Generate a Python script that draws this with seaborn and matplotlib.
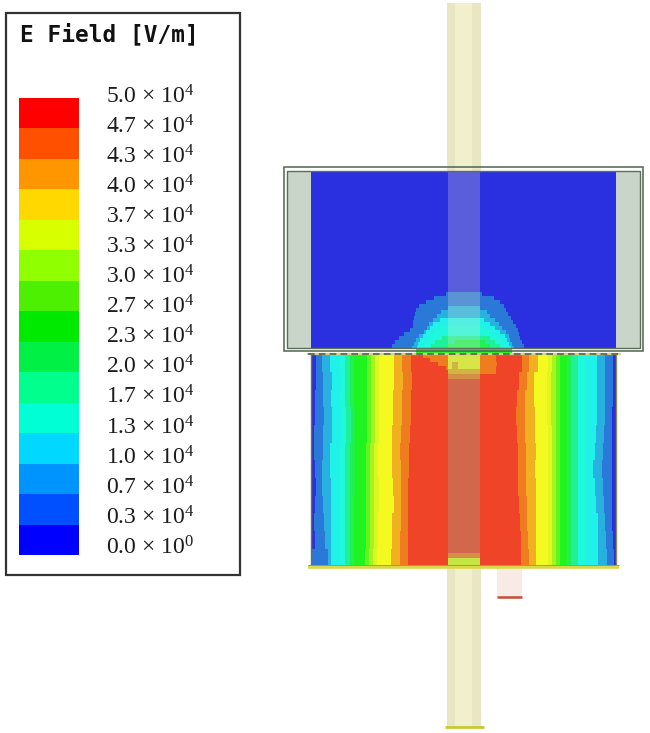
import numpy as np
import pandas as pd
import seaborn as sns
import matplotlib
matplotlib.use("Agg")
import matplotlib.pyplot as plt
from matplotlib.colors import ListedColormap
from matplotlib.patches import Rectangle

sns.set_theme(style="white")
plt.rcParams["font.family"] = ["Liberation Serif", "DejaVu Sans"]
plt.rcParams["mathtext.default"] = "regular"

W, H = 650, 733

# Contour levels of the key, highest first
legend_labels = [("5.0", 4), ("4.7", 4), ("4.3", 4), ("4.0", 4), ("3.7", 4), ("3.3", 4),
                 ("3.0", 4), ("2.7", 4), ("2.3", 4), ("2.0", 4), ("1.7", 4), ("1.3", 4),
                 ("1.0", 4), ("0.7", 4), ("0.3", 4), ("0.0", 0)]
legend_colors = ["#0000ff", "#0050ff", "#0094ff", "#00d8ff", "#00ffd4", "#00ff8c",
                 "#00f045", "#00ea00", "#4cf000", "#90ff00", "#d8ff00", "#ffd800",
                 "#ff9600", "#ff5000", "#ff0000"]
field_colors = ["#2a30e0", "#2a78d8", "#28b0e0", "#20f2ea", "#20f8dc", "#20f098",
                "#20f050", "#20f420", "#60f420", "#a4f420", "#dcf820", "#f4fa20",
                "#f0b020", "#f07c20", "#f04428"]

# Contour crossings in the lower region, one row per strip, x in canvas units
lower_left_edges = [
    [316, 322, 330, 340, 345, 350, 354, 367, 371, 375, 379, 394, 402, 411],
    [316, 323, 332, 341, 345, 350, 354, 367, 371, 375, 379, 394, 403, 412],
    [315, 323, 331, 340, 345, 350, 354, 367, 371, 375, 379, 393, 402, 411],
    [315, 324, 332, 341, 346, 351, 355, 367, 371, 375, 379, 393, 402, 411],
    [314, 323, 332, 341, 346, 351, 355, 367, 371, 375, 379, 392, 401, 410],
    [314, 323, 330, 340, 345, 350, 355, 366, 370, 374, 378, 392, 400, 409],
    [315, 322, 330, 340, 345, 350, 355, 366, 370, 374, 378, 392, 401, 409],
    [316, 322, 331, 340, 345, 350, 355, 366, 370, 374, 379, 393, 401, 408],
    [315, 323, 331, 340, 345, 350, 354, 366, 370, 374, 379, 394, 401, 408],
    [314, 324, 331, 340, 345, 350, 354, 366, 370, 374, 378, 392, 401, 408],
    [315, 325, 331, 340, 345, 350, 354, 366, 370, 374, 378, 392, 400, 408],
    [312, 328, 331, 340, 345, 350, 354, 365, 369, 373, 377, 391, 400, 408],
]
lower_right_edges = [
    [522, 529, 538, 548, 552, 556, 560, 567, 571, 578, 585, 597, 605, 613],
    [519, 527, 534, 547, 551, 556, 560, 567, 571, 578, 585, 597, 605, 613],
    [517, 525, 534, 547, 551, 556, 560, 567, 571, 578, 585, 597, 605, 613],
    [516, 525, 535, 547, 551, 556, 560, 567, 571, 578, 585, 597, 605, 612],
    [517, 525, 535, 548, 552, 556, 560, 567, 571, 578, 585, 596, 604, 612],
    [518, 526, 536, 548, 552, 556, 560, 567, 571, 578, 585, 595, 603, 612],
    [518, 526, 535, 548, 552, 556, 560, 567, 571, 578, 585, 593, 602, 612],
    [518, 526, 536, 548, 552, 556, 560, 567, 571, 578, 585, 595, 603, 612],
    [519, 527, 536, 548, 552, 556, 560, 567, 571, 578, 585, 596, 604, 612],
    [520, 527, 536, 548, 552, 556, 560, 567, 571, 578, 585, 598, 605, 612],
    [521, 528, 536, 548, 552, 556, 560, 567, 571, 578, 585, 598, 606, 613],
    [521, 529, 536, 548, 552, 556, 560, 567, 571, 578, 585, 598, 607, 614],
]
# Local disturbances around the conductor: y0, y1, x0, x1, level
lower_spots = [
    (354, 358, 423, 496, 13), (358, 362, 430, 496, 13), (362, 366, 438, 497, 13),
    (366, 370, 446, 496, 13), (370, 374, 480, 496, 13),
    (354, 369, 448, 480, 11), (362, 369, 452, 458, 12), (369, 374, 448, 480, 12),
    (374, 379, 448, 480, 13),
    (553, 558, 448, 480, 13), (558, 566, 448, 480, 10),
]

# Field leaking into the upper region: y of strip, left x, right x, per level
dome_level1 = [(292, 446, 482), (296, 434, 494), (300, 426, 500), (304, 419, 504),
               (308, 416, 506), (312, 415, 508), (316, 414, 511), (320, 413, 513),
               (324, 413, 516), (328, 410, 518), (332, 404, 519), (336, 399, 520),
               (340, 395, 522), (344, 392, 524), (348, 390, 525)]
dome_level2 = [(306, 448, 480), (310, 441, 487), (314, 437, 490), (318, 433, 495),
               (322, 429, 499), (326, 427, 502), (330, 424, 506), (334, 419, 509),
               (338, 416, 510), (342, 414, 512), (346, 412, 514)]
dome_level3 = [(318, 440, 484), (322, 433, 490), (326, 430, 495), (330, 426, 500),
               (334, 423, 505), (338, 420, 507), (342, 418, 509), (346, 417, 511)]
dome_level4 = [(326, 440, 485), (330, 434, 492), (334, 430, 498), (338, 427, 502),
               (342, 424, 505), (346, 422, 507)]
dome_level5 = [(336, 442, 490), (340, 435, 495), (344, 431, 500), (348, 430, 503)]
dome_level6 = [(340, 455, 485), (344, 448, 490)]
dome_level7 = [(348, 447, 492)]
gap_strip = (349, 354, 416, 512, 7)

cmap_key = ListedColormap(legend_colors)
cmap_field = ListedColormap(field_colors)


def pixel_axes(fig, x0, y0, x1, y1, **kw):
    return fig.add_axes([x0 / W, 1 - y1 / H, (x1 - x0) / W, (y1 - y0) / H], **kw)


def draw_cells(ax, table, cmap):
    sns.heatmap(table, ax=ax, cmap=cmap, vmin=-0.5, vmax=len(cmap.colors) - 0.5,
                cbar=False, xticklabels=False, yticklabels=False, linewidths=0)
    ax.set_xlabel("")
    ax.set_ylabel("")


fig = plt.figure(figsize=(W / 100, H / 100), dpi=100, facecolor="white")

# Lower region: levels climb from the wall to the conductor and fall again
x_low = np.arange(311, 616)
y_low = np.arange(354, 566)
lower = np.zeros((y_low.size, x_low.size))
n_strips = len(lower_left_edges)
for i, y in enumerate(y_low):
    k = min(int((y - y_low[0]) / y_low.size * n_strips), n_strips - 1)
    up = np.searchsorted(lower_left_edges[k], x_low + 0.5)
    down = 14 - np.searchsorted(lower_right_edges[k], x_low + 0.5)
    lower[i] = np.where(x_low < 465, up, down)
for y0, y1, x0, x1, level in lower_spots:
    rows = (y_low >= y0) & (y_low < y1)
    cols = (x_low >= x0) & (x_low < x1)
    lower[np.ix_(rows, cols)] = level
draw_cells(pixel_axes(fig, 311, 354, 616, 566), pd.DataFrame(lower, index=y_low, columns=x_low), cmap_field)

# Upper region: almost field free, with a dome above the opening
x_up = np.arange(311, 616)
y_up = np.arange(171, 354)
upper = np.zeros((y_up.size, x_up.size))
upper[y_up >= 349] = np.nan
dome_levels = [dome_level1, dome_level2, dome_level3, dome_level4,
               dome_level5, dome_level6, dome_level7]
for level, strips in enumerate(dome_levels, start=1):
    for y0, x0, x1 in strips:
        rows = (y_up >= y0) & (y_up < min(y0 + 4, 349))
        cols = (x_up >= x0) & (x_up < x1)
        upper[np.ix_(rows, cols)] = level
y0, y1, x0, x1, level = gap_strip
upper[np.ix_((y_up >= y0) & (y_up < y1), (x_up >= x0) & (x_up < x1))] = level
draw_cells(pixel_axes(fig, 311, 171, 616, 354), pd.DataFrame(upper, index=y_up, columns=x_up), cmap_field)

# Colour key swatches, highest level on top
key_levels = np.arange(len(legend_colors))[::-1].reshape(-1, 1)
ax_key = pixel_axes(fig, 19, 98, 79, 555)
ax_key.set_zorder(4)
draw_cells(ax_key, pd.DataFrame(key_levels), cmap_key)

# Geometry and text drawn in canvas units
ov = fig.add_axes([0, 0, 1, 1], zorder=3, facecolor="none")
ov.set_xlim(0, W)
ov.set_ylim(H, 0)
ov.axis("off")


def box(x0, y0, x1, y1, **kw):
    ov.add_patch(Rectangle((x0, y0), x1 - x0, y1 - y0, **kw))


# Key frame
box(6, 13, 240, 575, fc="white", ec="#333333", lw=1.6, zorder=0)
ov.text(20, 35, "E Field [V/m]", family="DejaVu Sans Mono", weight="bold", fontsize=16.4,
        color="#111111", ha="left", va="center", zorder=6)
label_ys = np.linspace(96, 547.5, len(legend_labels))
for (mant, exp), y in zip(legend_labels, label_ys):
    ov.text(106, y + 7, f"{mant} × 10$^{{{exp}}}$", fontsize=17, color="#1c1c1c",
            ha="left", va="baseline", zorder=6)

# Conductor outside and through the cavity
pipe_light, pipe_shade = "#f2f0cc", "#e9e6c4"
for y0, y1 in [(3, 171), (566, 727)]:
    box(446.5, y0, 481, y1, fc=pipe_light, ec="none", zorder=2)
    box(446.5, y0, 455, y1, fc=pipe_shade, ec="none", zorder=2)
    box(472, y0, 481, y1, fc=pipe_shade, ec="none", zorder=2)
box(448, 171, 480, 349, fc="#eee9d0", ec="none", alpha=0.25, zorder=2)
box(448, 354, 480, 566, fc="#90bba0", ec="none", alpha=0.3, zorder=2)
ov.plot([445, 484], [727, 727], color="#c6c838", lw=2, zorder=3, solid_capstyle="butt")

# Side walls of the upper shell
box(287, 171, 311, 349, fc="#c9d5c9", ec="none", zorder=1)
box(616, 171, 640, 349, fc="#c9d5c9", ec="none", zorder=1)
box(283.5, 167, 643, 351, fc="none", ec="#4f6350", lw=1.1, zorder=4)
box(286.5, 170.5, 640, 348, fc="none", ec="#5a6e5a", lw=1.0, zorder=4)

# Cavity walls and rims
ov.plot([311, 311], [354, 566], color="#6c7a30", lw=1, zorder=4)
ov.plot([616, 616], [354, 566], color="#8a9040", lw=1, zorder=4)
ov.plot([308, 620], [354, 354], color="#d6d27c", lw=1.6, zorder=4)
ov.plot([308, 620], [354, 354], color="#56604e", lw=1.2, ls=(0, (4, 2.5)), zorder=5)
ov.plot([308, 619], [566.5, 566.5], color="#d8d848", lw=2.6, zorder=5, solid_capstyle="butt")
ov.plot([308, 619], [565.2, 565.2], color="#9a9a30", lw=0.6, zorder=5)

# Feed stub under the cavity
box(497, 568, 522, 597, fc="#f8ebe5", ec="none", zorder=2)
ov.plot([497, 522], [597, 597], color="#c84c34", lw=1.8, zorder=3, solid_capstyle="butt")

fig.savefig("out.png", dpi=100, facecolor="white")
